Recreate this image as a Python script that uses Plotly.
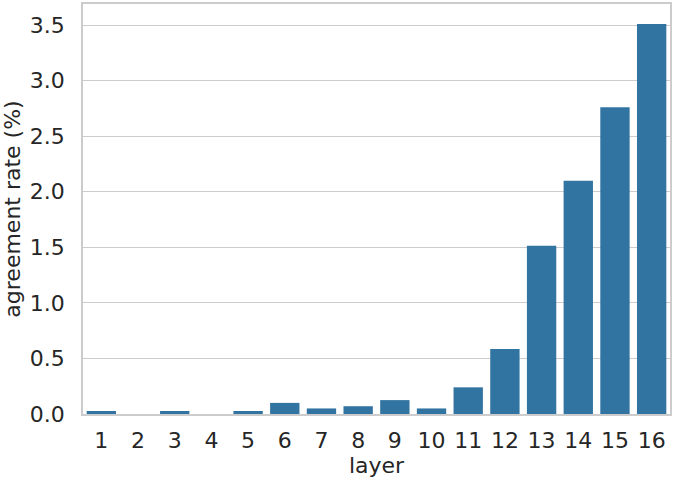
import plotly.graph_objects as go

layers = [str(i) for i in range(1, 17)]
rates = [0.027, 0.0, 0.027, 0.0, 0.027, 0.10, 0.05, 0.07, 0.125, 0.05,
         0.24, 0.585, 1.515, 2.10, 2.76, 3.51]
y_ticks = [0.0, 0.5, 1.0, 1.5, 2.0, 2.5, 3.0, 3.5]

font = dict(family="DejaVu Sans", size=22, color="#262626")

fig = go.Figure()
fig.add_trace(go.Bar(x=layers, y=rates, marker_color="#3274a1",
                     marker_line_width=0, width=0.8))

fig.update_layout(
    width=674, height=481,
    margin=dict(l=83, r=2, t=4, b=67),
    plot_bgcolor="white", paper_bgcolor="white",
    font=font, showlegend=False, bargap=0.2,
)
fig.update_xaxes(
    title_text="layer", title_font=font, title_standoff=4, type="category",
    range=[-0.5, 15.5], showgrid=False, ticks="", ticklabelstandoff=6,
    showline=True, linecolor="#cccccc", linewidth=1.5, mirror=True,
)
fig.update_yaxes(
    title_text="agreement rate (%)", title_font=font, title_standoff=6,
    range=[0, 3.69], tickvals=y_ticks, tickformat=".1f",
    showgrid=True, gridcolor="#cccccc", gridwidth=1.2, zeroline=False,
    ticks="", ticklabelstandoff=12,
    showline=True, linecolor="#cccccc", linewidth=1.5, mirror=True,
)

# page has a default 8px body margin, drop it so the figure sits at 0,0
fig.write_html("out.html", config={"displayModeBar": False},
               post_script="document.body.style.margin='0';")
